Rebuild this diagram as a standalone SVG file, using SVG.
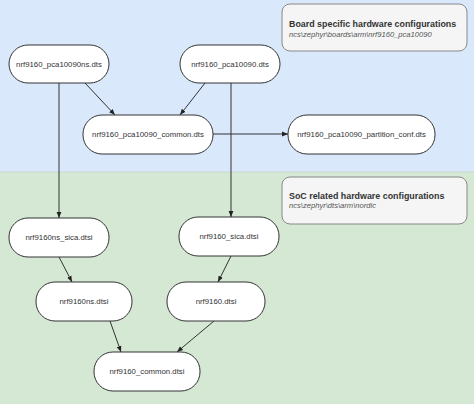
<svg xmlns="http://www.w3.org/2000/svg" width="474" height="404" viewBox="0 0 474 404">
<defs>
<marker id="arr" viewBox="0 0 10 10" refX="10" refY="5" markerWidth="6" markerHeight="6" orient="auto" markerUnits="userSpaceOnUse">
<path d="M0,1 L10,5 L0,9 Z" fill="#222"/>
</marker>
</defs>
<style>
.node rect{fill:#fff;stroke:#333;stroke-width:1}
.node text{font-family:"Liberation Sans",Arial,sans-serif;font-size:7.8px;fill:#333;text-anchor:middle;dominant-baseline:central}
.info rect{fill:#f5f5f5;stroke:#888;stroke-width:1}
.info .t{font-family:"Liberation Sans",Arial,sans-serif;font-size:8.9px;font-weight:bold;fill:#333}
.info .s{font-family:"Liberation Sans",Arial,sans-serif;font-size:7.6px;font-style:italic;fill:#555}
#connectors line{stroke:#333;stroke-width:1;marker-end:url(#arr)}
</style>
<rect x="0" y="0" width="474" height="172" fill="#dae8fc"/>
<rect x="0" y="172" width="474" height="232" fill="#d5e8d4"/>
<line x1="0" y1="172" x2="474" y2="172" stroke="#c8d8c8" stroke-width="1"/>

<g id="board-info" class="info">
<rect x="282" y="4" width="185" height="47" rx="8"/>
<text class="t" x="289" y="27">Board specific hardware configurations</text>
<text class="s" x="289" y="37">ncs\zephyr\boards\arm\nrf9160_pca10090</text>
</g>
<g id="soc-info" class="info">
<rect x="282" y="177" width="185" height="47" rx="8"/>
<text class="t" x="289" y="199">SoC related hardware configurations</text>
<text class="s" x="289" y="208">ncs\zephyr\dts\arm\nordic</text>
</g>

<g id="connectors">
<line x1="85" y1="83" x2="115" y2="115"/>
<line x1="205" y1="83" x2="180" y2="115"/>
<line x1="213" y1="134" x2="288" y2="134"/>
<line x1="59" y1="83" x2="59" y2="218"/>
<line x1="231" y1="83" x2="231" y2="217"/>
<line x1="59" y1="257" x2="72" y2="282"/>
<line x1="231" y1="256" x2="218" y2="282"/>
<line x1="110" y1="321" x2="121" y2="352"/>
<line x1="214" y1="321" x2="177" y2="352"/>
</g>

<g id="n-pca10090ns" class="node"><rect x="9" y="45" width="100" height="38" rx="19"/><text x="59" y="64">nrf9160_pca10090ns.dts</text></g>
<g id="n-pca10090" class="node"><rect x="180" y="45" width="100" height="38" rx="19"/><text x="230" y="64">nrf9160_pca10090.dts</text></g>
<g id="n-common-dts" class="node"><rect x="83" y="115" width="130" height="39" rx="19"/><text x="148" y="134.5">nrf9160_pca10090_common.dts</text></g>
<g id="n-partition" class="node"><rect x="288" y="115" width="147" height="39" rx="19"/><text x="361.5" y="134.5">nrf9160_pca10090_partition_conf.dts</text></g>
<g id="n-ns-sica" class="node"><rect x="9" y="218" width="100" height="39" rx="19"/><text x="59" y="237.5">nrf9160ns_sica.dtsi</text></g>
<g id="n-sica" class="node"><rect x="179" y="217" width="100" height="39" rx="19"/><text x="229" y="236.5">nrf9160_sica.dtsi</text></g>
<g id="n-ns" class="node"><rect x="36" y="282" width="96" height="39" rx="19"/><text x="84" y="301.5">nrf9160ns.dtsi</text></g>
<g id="n-9160" class="node"><rect x="167" y="282" width="98" height="39" rx="19"/><text x="216" y="301.5">nrf9160.dtsi</text></g>
<g id="n-common-dtsi" class="node"><rect x="94" y="352" width="106" height="39" rx="19"/><text x="147" y="371.5">nrf9160_common.dtsi</text></g>
</svg>
